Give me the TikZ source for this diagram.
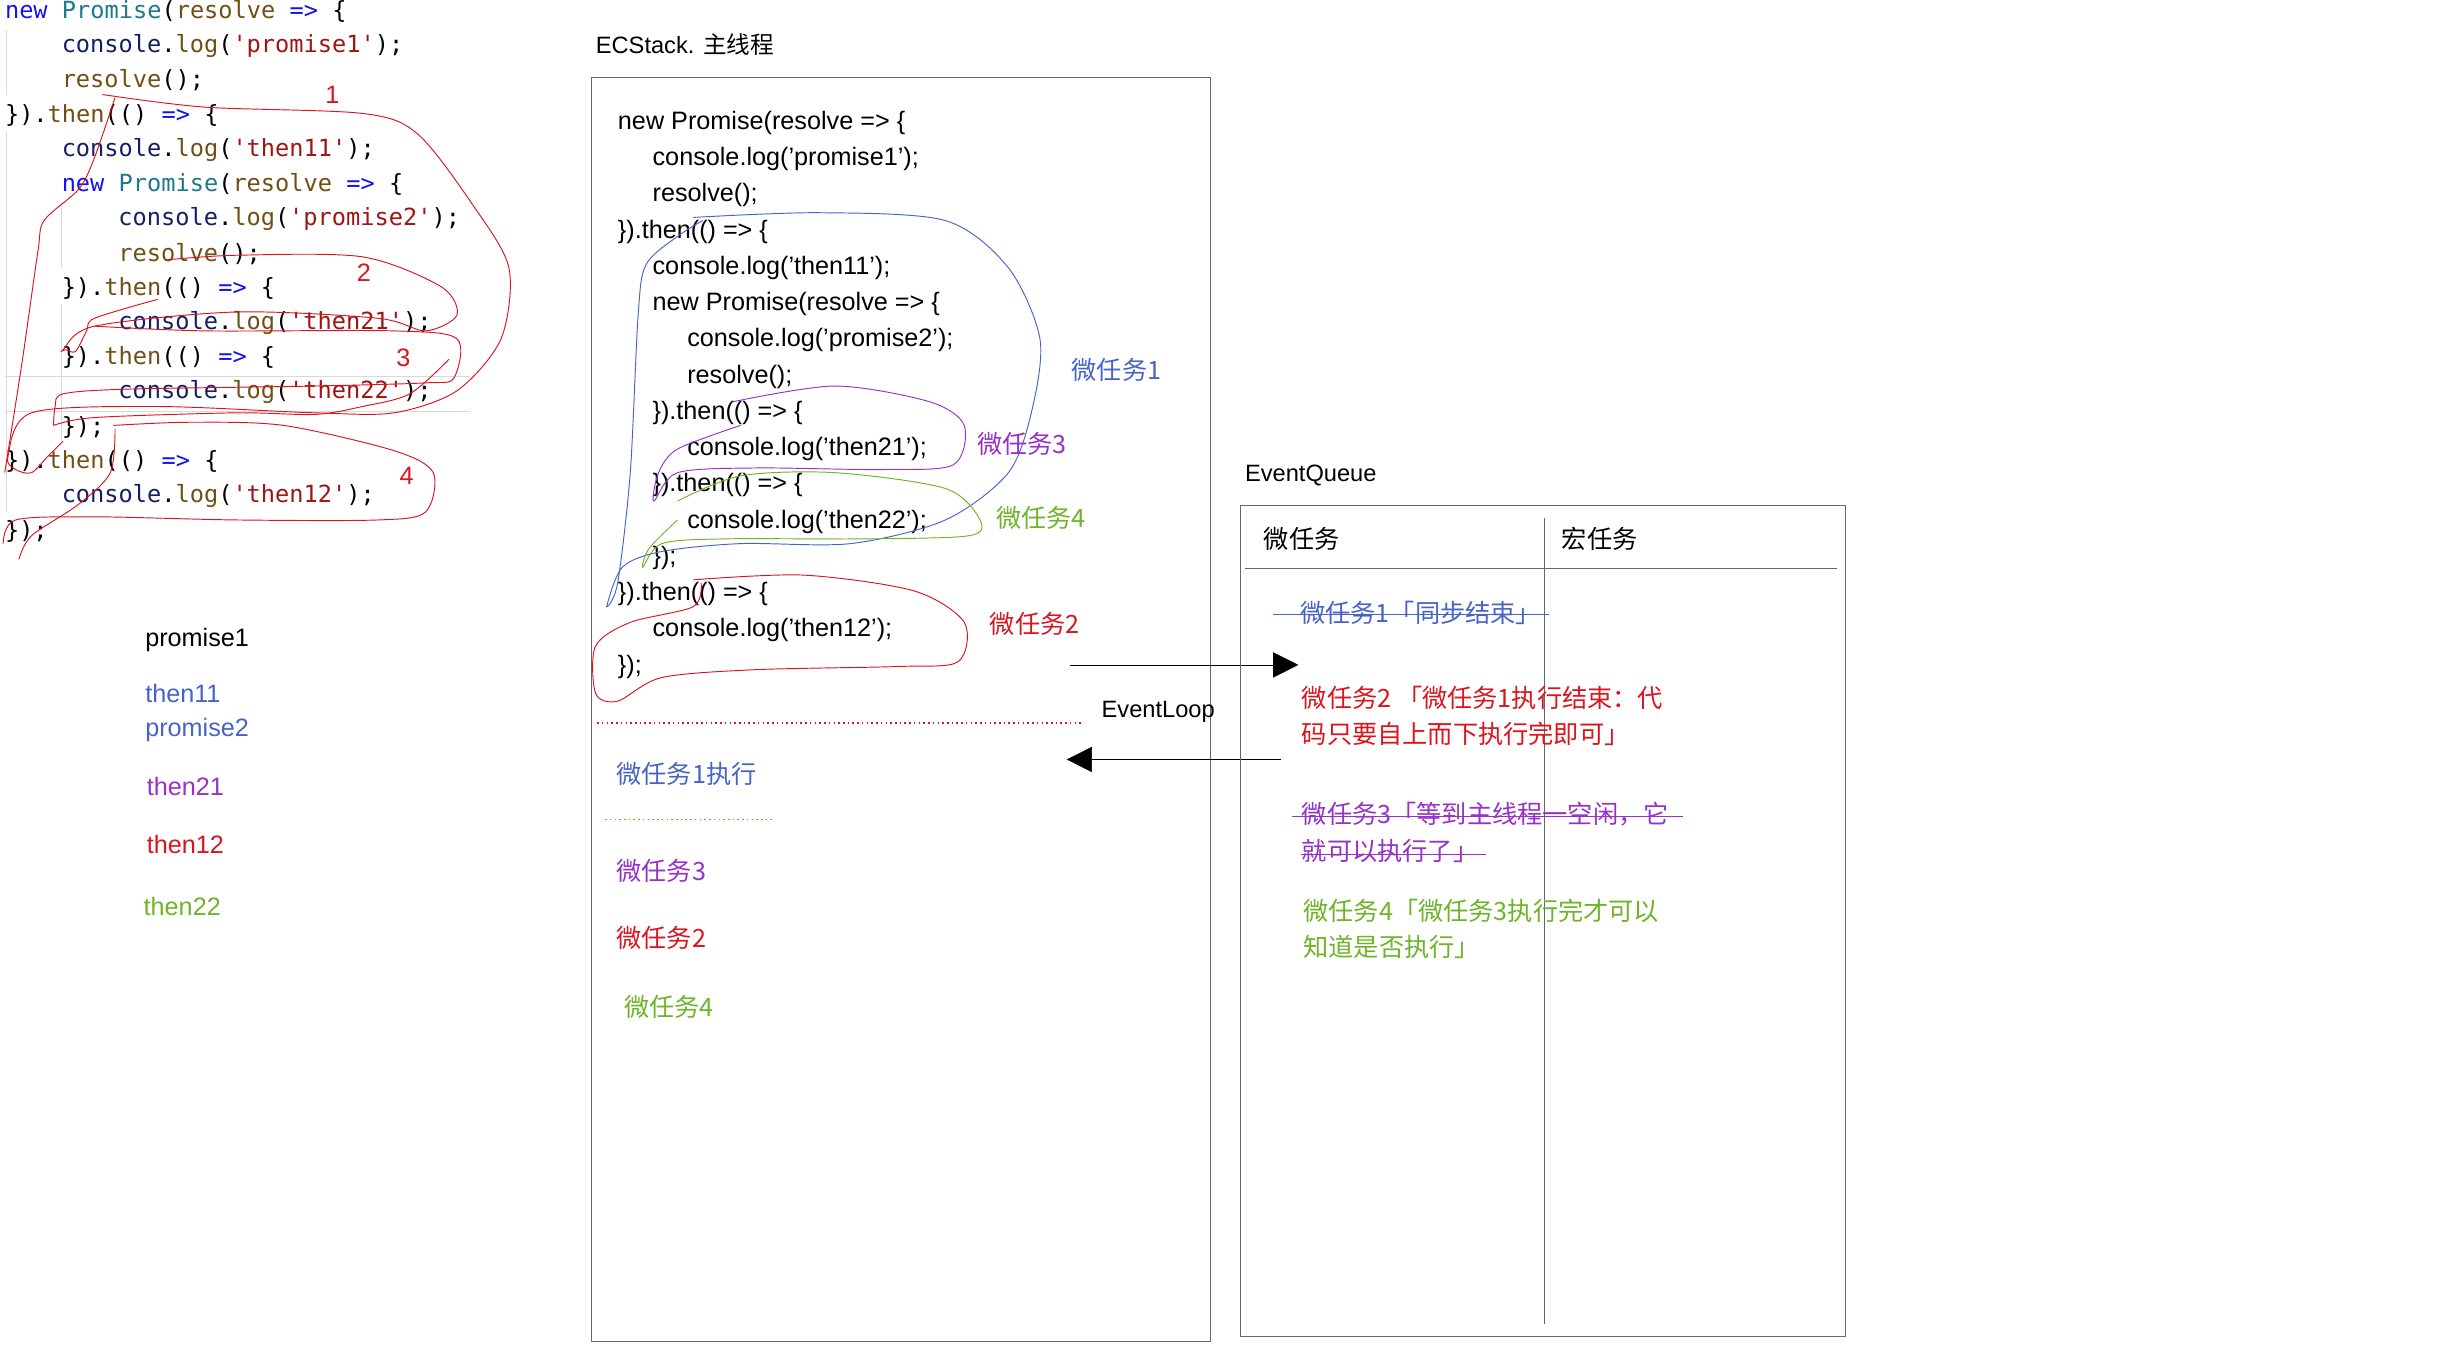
\documentclass[tikz,border=0pt]{standalone}
\usepackage{fontspec}
\setmainfont{Liberation Sans}
\setmonofont{DejaVu Sans Mono}
\newfontfamily\cjk{Noto Sans CJK SC}
\usetikzlibrary{arrows.meta}
\definecolor{kw}{RGB}{20,20,240}
\definecolor{cls}{RGB}{30,120,140}
\definecolor{fn}{RGB}{110,80,20}
\definecolor{str}{RGB}{160,20,20}
\definecolor{obj}{RGB}{20,30,100}
\definecolor{tb}{RGB}{70,100,200}
\definecolor{tp}{RGB}{150,50,200}
\definecolor{tr}{RGB}{220,20,30}
\definecolor{tg}{RGB}{110,180,40}
\begin{document}
\begin{tikzpicture}[x=1pt,y=-1pt,
  cd/.style={anchor=west,inner sep=0,font=\ttfamily\fontsize{15}{16}\selectfont},
  tx/.style={anchor=west,inner sep=0,font=\fontsize{16}{20}\selectfont},
  cn/.style={anchor=west,inner sep=0,font=\cjk\fontsize{16}{20}\selectfont},
  hand/.style={line width=0.6pt}]
\useasboundingbox (0,0) rectangle (1560,866);
% left code
\node[cd] (c1) at (3,7) {\textcolor{kw}{new} \textcolor{cls}{Promise}(\textcolor{fn}{resolve} \textcolor{kw}{=>} \{};
\node[cd] (c2) at (39,29) {\textcolor{obj}{console}.\textcolor{fn}{log}(\textcolor{str}{'promise1'});};
\node[cd] (c3) at (39,51) {\textcolor{fn}{resolve}();};
\node[cd] (c4) at (3,73) {\}).\textcolor{fn}{then}(() \textcolor{kw}{=>} \{};
\node[cd] (c5) at (39,95) {\textcolor{obj}{console}.\textcolor{fn}{log}(\textcolor{str}{'then11'});};
\node[cd] (c6) at (39,117) {\textcolor{kw}{new} \textcolor{cls}{Promise}(\textcolor{fn}{resolve} \textcolor{kw}{=>} \{};
\node[cd] (c7) at (75,139) {\textcolor{obj}{console}.\textcolor{fn}{log}(\textcolor{str}{'promise2'});};
\node[cd] (c8) at (75,161) {\textcolor{fn}{resolve}();};
\node[cd] (c9) at (39,183) {\}).\textcolor{fn}{then}(() \textcolor{kw}{=>} \{};
\node[cd] (c10) at (75,205) {\textcolor{obj}{console}.\textcolor{fn}{log}(\textcolor{str}{'then21'});};
\node[cd] (c11) at (39,227) {\}).\textcolor{fn}{then}(() \textcolor{kw}{=>} \{};
\node[cd] (c12) at (75,249) {\textcolor{obj}{console}.\textcolor{fn}{log}(\textcolor{str}{'then22'});};
\node[cd] (c13) at (39,271) {\});};
\node[cd] (c14) at (3,293) {\}).\textcolor{fn}{then}(() \textcolor{kw}{=>} \{};
\node[cd] (c15) at (39,315) {\textcolor{obj}{console}.\textcolor{fn}{log}(\textcolor{str}{'then12'});};
\node[cd] (c16) at (3,337) {\});};
\draw[gray!30] (4,19)--(4,60) (4,84)--(4,325) (39,129)--(39,170) (39,193)--(39,280) (3,239)--(298,239) (3,261)--(298,261);
% red hand loops left
\begin{scope}[tr,hand]
\draw plot[smooth] coordinates {(65,60)(130,68)(230,72)(265,85)(300,130)(323,170)(318,215)(290,248)(250,262)(200,262)(100,258)(20,262)(5,290)(10,298)(20,300)(30,290)(40,280)};
\draw plot[smooth] coordinates {(73,62)(60,100)(50,120)(28,140)(24,160)(14,230)(3,300)};
\draw plot[smooth] coordinates {(105,165)(150,162)(230,163)(280,182)(290,200)(270,210)(240,202)(150,198)(60,207)(40,222)(42,222)(48,223)(55,210)(60,202)(100,190)};
\draw plot[smooth] coordinates {(60,207)(130,210)(250,210)(290,215)(288,240)(270,243)(200,245)(80,247)(40,250)(35,258)(34,270)};
\draw plot[smooth] coordinates {(34,270)(60,265)(150,262)(200,263)(230,258)(260,250)(285,228)};
\draw plot[smooth] coordinates {(72,270)(120,268)(180,270)(250,286)(275,300)(270,325)(240,330)(150,330)(60,328)(10,330)(2,345)};
\draw plot[smooth] coordinates {(12,355)(20,340)(50,320)(70,300)(73,272)};
\end{scope}
\node[tr,inner sep=0,font=\fontsize{16}{20}\selectfont] (n1) at (211,60) {1};
\node[tr,inner sep=0,font=\fontsize{16}{20}\selectfont] (n2) at (231,173) {2};
\node[tr,inner sep=0,font=\fontsize{16}{20}\selectfont] (n3) at (256,227) {3};
\node[tr,inner sep=0,font=\fontsize{16}{20}\selectfont] (n4) at (258,302) {4};
% left list
\node[tx] (l1) at (92,406) {promise1};
\node[tx,tb] (l2) at (92,440) {then11};
\node[tx,tb] (l3) at (92,463) {promise2};
\node[tx,tp] (l4) at (93,499) {then21};
\node[tx,tr] (l5) at (93,536) {then12};
\node[tx,tg] (l6) at (91,575) {then22};
% ECStack
\node[tx,font=\fontsize{15}{18}\selectfont] (ecl) at (378,28) {ECStack. {\cjk 主线程}};
\draw[gray!80!black] (375,49) rectangle (768,851);
\node[tx] (e1) at (392,78) {new Promise(resolve => \{};
\node[tx] (e2) at (414,101) {console.log('promise1');};
\node[tx] (e3) at (414,124) {resolve();};
\node[tx] (e4) at (392,147) {\}).then(() => \{};
\node[tx] (e5) at (414,170) {console.log('then11');};
\node[tx] (e6) at (414,193) {new Promise(resolve => \{};
\node[tx] (e7) at (436,216) {console.log('promise2');};
\node[tx] (e8) at (436,239) {resolve();};
\node[tx] (e9) at (414,262) {\}).then(() => \{};
\node[tx] (e10) at (436,285) {console.log('then21');};
\node[tx] (e11) at (414,308) {\}).then(() => \{};
\node[tx] (e12) at (436,331) {console.log('then22');};
\node[tx] (e13) at (414,354) {\});};
\node[tx] (e14) at (392,377) {\}).then(() => \{};
\node[tx] (e15) at (414,400) {console.log('then12');};
\node[tx] (e16) at (392,423) {\});};
\draw[tb,hand] plot[smooth] coordinates {(440,138)(520,135)(600,140)(640,170)(660,215)(655,260)(640,300)(600,330)(540,345)(470,345)(420,350)(395,360)(385,385)(392,370)(400,300)(405,200)(410,168)(430,150)(446,140)};
\draw[tp,hand] plot[smooth] coordinates {(465,255)(530,245)(590,255)(612,270)(605,295)(560,298)(480,297)(430,300)(415,318)(418,300)(430,285)(470,270)};
\draw[tg,hand] plot[smooth] coordinates {(430,318)(470,302)(530,300)(600,310)(622,330)(615,340)(550,342)(460,342)(420,345)(408,360)(412,348)(430,330)};
\draw[tr,hand] plot[smooth] coordinates {(440,368)(510,365)(580,375)(612,395)(608,420)(570,423)(480,425)(420,430)(392,445)(378,440)(378,410)(400,395)(440,385)(445,370)};
\node[cn,tb] (m1) at (680,235) {微任务1};
\node[cn,tp] (m3) at (620,282) {微任务3};
\node[cn,tg] (m4) at (632,329) {微任务4};
\node[cn,tr] (m2) at (628,396) {微任务2};
\draw[tr,dotted,line width=1pt] (379,459)--(687,459);
\node[tx,font=\fontsize{15}{18}\selectfont] (el) at (699,452) {EventLoop};
\coordinate (a1s) at (679,422); \coordinate (a1e) at (824,422);
\coordinate (a2s) at (813,482); \coordinate (a2e) at (677,482);
\draw[-{Triangle[length=16pt,width=16pt]}] (a1s)--(a1e);
\draw[-{Triangle[length=16pt,width=16pt]}] (a2s)--(a2e);
\node[cn,tb] (x1) at (391,491) {微任务1执行};
\draw[tg,dotted,line width=1pt] (384,520)--(490,520);
\node[cn,tp] (x3) at (391,553) {微任务3};
\node[cn,tr] (x2) at (391,595) {微任务2};
\node[cn,tg] (x4) at (396,639) {微任务4};
% EventQueue
\node[tx,font=\fontsize{15}{18}\selectfont] (eql) at (790,302) {EventQueue};
\draw[gray!80!black] (787,321) rectangle (1171,848);
\node[cn] (h1) at (802,342) {微任务};
\node[cn] (h2) at (991,342) {宏任务};
\draw[gray!80!black] (790,361)--(1166,361) (980,329)--(980,840);
\node[cn,tb] (q1) at (825,389) {微任务1「同步结束」};
\draw[tb,hand] (808,390)--(983,390);
\node[cn,tr] (q2a) at (826,443) {微任务2 「微任务1执行结束：代};
\node[cn,tr] (q2b) at (826,466) {码只要自上而下执行完即可」};
\node[cn,tp] (q3a) at (826,517) {微任务3「等到主线程一空闲，它};
\node[cn,tp] (q3b) at (826,540) {就可以执行了」};
\draw[tp,hand] (820,518)--(1068,518) (826,542)--(943,542);
\node[cn,tg] (q4a) at (827,578) {微任务4「微任务3执行完才可以};
\node[cn,tg] (q4b) at (827,601) {知道是否执行」};
\end{tikzpicture}
\end{document}
